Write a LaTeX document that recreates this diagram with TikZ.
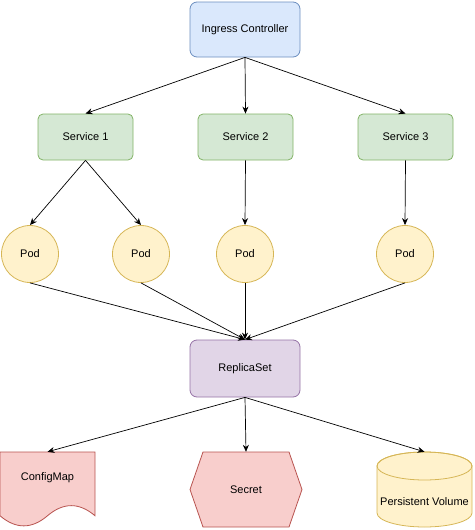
\documentclass[tikz,border=0pt]{standalone}
\usepackage{fontspec}
\setmainfont{Liberation Sans}
\usetikzlibrary{arrows.meta}
\definecolor{bluefill}{HTML}{DAE8FC}
\definecolor{blueline}{HTML}{6C8EBF}
\definecolor{greenfill}{HTML}{D5E8D4}
\definecolor{greenline}{HTML}{82B366}
\definecolor{yellowfill}{HTML}{FFF2CC}
\definecolor{yellowline}{HTML}{D6B656}
\definecolor{purplefill}{HTML}{E1D5E7}
\definecolor{purpleline}{HTML}{9673A6}
\definecolor{redfill}{HTML}{F8CECC}
\definecolor{redline}{HTML}{B85450}

\begin{document}
\begin{tikzpicture}[x=1pt,y=-1pt,font=\fontsize{11}{13}\selectfont,
    ctrl/.style={draw=blueline,fill=bluefill,line width=0.8pt,rounded corners=7pt,minimum width=110pt,minimum height=55pt},
    svc/.style={draw=greenline,fill=greenfill,line width=0.8pt,rounded corners=5pt,minimum width=95pt,minimum height=46pt},
    pod/.style={circle,draw=yellowline,fill=yellowfill,line width=0.8pt,minimum size=57pt},
    rset/.style={draw=purpleline,fill=purplefill,line width=0.8pt,rounded corners=7pt,minimum width=110pt,minimum height=57pt},
    area/.style={minimum width=#1,minimum height=75pt,inner sep=0pt},
    link/.style={-{Stealth[length=7pt,width=6pt]},line width=0.7pt}]
  \useasboundingbox (0,0) rectangle (474,530);
  \filldraw[draw=redline,fill=redfill,line width=0.8pt]
    (0,452) -- (95,452) -- (95,515.75)
    .. controls (79.17,502.25) and (63.33,502.25) .. (47.5,515.75)
    .. controls (31.67,529.25) and (15.83,529.25) .. (0,515.75) -- cycle;
  \filldraw[draw=redline,fill=redfill,line width=0.8pt]
    (190,489.5) -- (203,452) -- (289,452) -- (302,489.5) -- (289,527) -- (203,527) -- cycle;
  \filldraw[draw=yellowline,fill=yellowfill,line width=0.8pt]
    (377,466) -- (377,513) arc[start angle=180,end angle=0,x radius=47.5,y radius=14]
    -- (472,466) arc[start angle=0,end angle=-180,x radius=47.5,y radius=14] -- cycle;
  \draw[yellowline,line width=0.8pt] (424.5,466) ellipse[x radius=47.5,y radius=14];
  \node[ctrl]  (ing)  at (245,29.5)  {Ingress Controller};
  \node[svc]   (svc1) at (85.5,137)  {Service 1};
  \node[svc]   (svc2) at (245.5,137) {Service 2};
  \node[svc]   (svc3) at (405.5,137) {Service 3};
  \node[pod]   (pod1) at (30,254)    {Pod};
  \node[pod]   (pod2) at (141,254)   {Pod};
  \node[pod]   (pod3) at (245,254)   {Pod};
  \node[pod]   (pod4) at (405,254)   {Pod};
  \node[rset]  (rs)   at (245,368.5) {ReplicaSet};
  \node[area=95pt,label={[yshift=11.5pt]center:ConfigMap}] (cm) at (47.5,489.5) {};
  \node[area=112pt] (sec) at (246,489.5) {Secret};
  \node[area=95pt,label={[yshift=-12.5pt]center:Persistent Volume}] (pv) at (424.5,489.5) {};
  \draw[link] (ing.south) -- (svc1.north);
  \draw[link] (ing.south) -- (svc2.north);
  \draw[link] (ing.south) -- (svc3.north);
  \draw[link] (svc1.south) -- (pod1.north);
  \draw[link] (svc1.south) -- (pod2.north);
  \draw[link] (svc2.south) -- (pod3.north);
  \draw[link] (svc3.south) -- (pod4.north);
  \draw[link] (pod1.south) -- (rs.north);
  \draw[link] (pod2.south) -- (rs.north);
  \draw[link] (pod3.south) -- (rs.north);
  \draw[link] (pod4.south) -- (rs.north);
  \draw[link] (rs.south) -- (cm.north);
  \draw[link] (rs.south) -- (sec.north);
  \draw[link] (rs.south) -- (pv.north);
\end{tikzpicture}
\end{document}
